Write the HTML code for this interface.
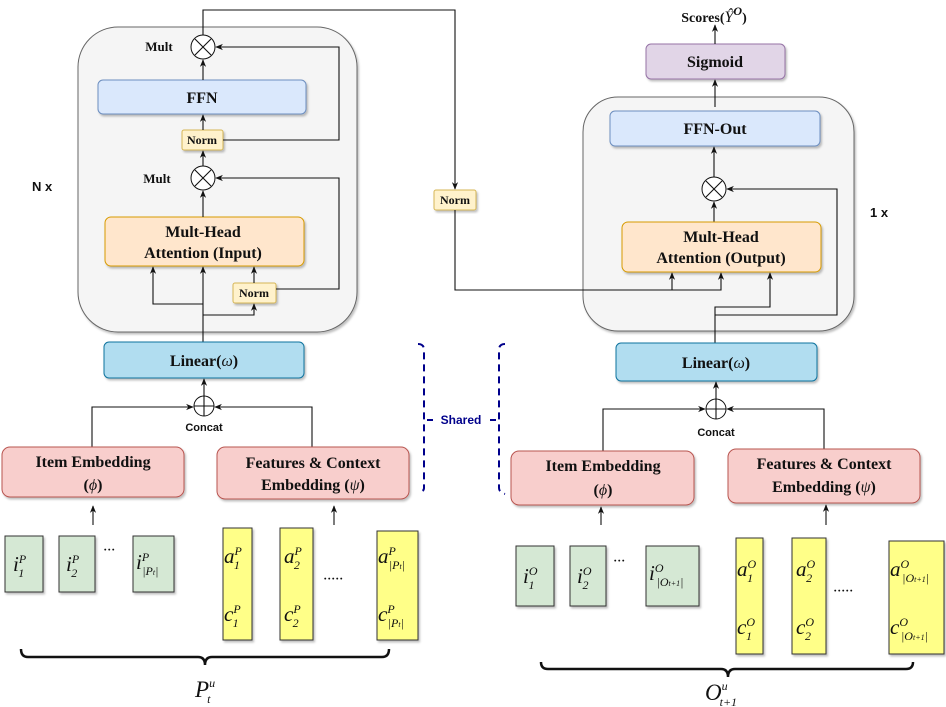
<!DOCTYPE html>
<html><head><meta charset="utf-8"><style>
html,body{margin:0;padding:0;background:#fff;}
svg{display:block;}
.b{font-family:"Liberation Serif",serif;font-weight:bold;fill:#111;}
.s{font-family:"Liberation Sans",sans-serif;font-weight:bold;fill:#111;}
.m{font-family:"Liberation Serif",serif;font-style:italic;fill:#111;}
.sub{font-family:"Liberation Serif",serif;font-style:italic;fill:#111;font-size:12px;}
line,polyline,path.c{stroke:#111;stroke-width:1.1;fill:none;}
</style></head><body>
<svg width="946" height="707" viewBox="0 0 946 707" xmlns="http://www.w3.org/2000/svg">
<defs>
<marker id="a" viewBox="0 0 10 10" refX="9" refY="5" markerWidth="7" markerHeight="7" orient="auto"><path d="M0,1 L10,5 L0,9 L3,5 z" fill="#111"/></marker>
<filter id="sh" x="-5%" y="-5%" width="115%" height="125%"><feDropShadow dx="1.5" dy="2" stdDeviation="1" flood-color="#000" flood-opacity="0.25"/></filter>
</defs>

<!-- LEFT big box -->
<rect x="78" y="27" width="279" height="305" rx="40" fill="#f5f5f5" stroke="#666" filter="url(#sh)"/>
<text x="32" y="191" class="s" font-size="13">N x</text>

<rect x="98" y="80" width="208" height="34" rx="5" fill="#dae8fc" stroke="#6c8ebf" filter="url(#sh)"/>
<text x="202" y="103" class="b" font-size="16" text-anchor="middle">FFN</text>
<rect x="182" y="130" width="41" height="20" rx="2" fill="#fff2cc" stroke="#d6b656" filter="url(#sh)"/>
<text x="202" y="144" class="b" font-size="12" text-anchor="middle">Norm</text>
<rect x="105" y="217" width="199" height="49" rx="6" fill="#ffe6cc" stroke="#d79b00" filter="url(#sh)"/>
<text x="203" y="237" class="b" font-size="16" text-anchor="middle">Mult-Head</text>
<text x="203" y="258" class="b" font-size="16" text-anchor="middle">Attention (Input)</text>
<rect x="233" y="283" width="43" height="20" rx="2" fill="#fff2cc" stroke="#d6b656" filter="url(#sh)"/>
<text x="254" y="297" class="b" font-size="12" text-anchor="middle">Norm</text>

<circle cx="203" cy="47" r="12" fill="#fff" stroke="#111"/>
<path class="c" d="M195,39 L211,55 M211,39 L195,55"/>
<text x="159" y="51" class="b" font-size="13" text-anchor="middle">Mult</text>
<circle cx="203" cy="178" r="12" fill="#fff" stroke="#111"/>
<path class="c" d="M195,170 L211,186 M211,170 L195,186"/>
<text x="157" y="183" class="b" font-size="13" text-anchor="middle">Mult</text>

<line x1="203" y1="80" x2="203" y2="60" marker-end="url(#a)"/>
<line x1="203" y1="130" x2="203" y2="115" marker-end="url(#a)"/>
<line x1="203" y1="166" x2="203" y2="151" marker-end="url(#a)"/>
<line x1="203" y1="217" x2="203" y2="191" marker-end="url(#a)"/>
<line x1="203" y1="342" x2="203" y2="267" marker-end="url(#a)"/>
<polyline points="203,304 153,304 153,267" marker-end="url(#a)"/>
<polyline points="203,315 254,315 254,304" marker-end="url(#a)"/>
<line x1="254" y1="283" x2="254" y2="267" marker-end="url(#a)"/>
<polyline points="276,289 339,289 339,178 216,178" marker-end="url(#a)"/>
<polyline points="223,140 339,140 339,47 216,47" marker-end="url(#a)"/>
<polyline points="203,35 203,10 455,10 455,189" marker-end="url(#a)"/>

<rect x="434" y="190" width="42" height="20" rx="2" fill="#fff2cc" stroke="#d6b656" filter="url(#sh)"/>
<text x="455" y="204" class="b" font-size="12" text-anchor="middle">Norm</text>

<!-- LEFT bottom -->
<rect x="104" y="342" width="200" height="36" rx="5" fill="#b1ddf0" stroke="#10739e" filter="url(#sh)"/>
<text x="204" y="366" class="b" font-size="16" text-anchor="middle">Linear(<tspan class="m" font-weight="normal">ω</tspan>)</text>
<circle cx="204" cy="406" r="10" fill="#fff" stroke="#111"/>
<path class="c" d="M194,406 L214,406 M204,396 L204,416"/>
<text x="204" y="431" class="s" font-size="11" text-anchor="middle">Concat</text>
<line x1="204" y1="396" x2="204" y2="379" marker-end="url(#a)"/>
<polyline points="92,447 92,407 193,407" marker-end="url(#a)"/>
<polyline points="312,447 312,407 215,407" marker-end="url(#a)"/>
<rect x="2" y="447" width="182" height="50" rx="8" fill="#f8cecc" stroke="#b85450" filter="url(#sh)"/>
<text x="93" y="467" class="b" font-size="16" text-anchor="middle">Item Embedding</text>
<text x="93" y="490" class="b" font-size="16" text-anchor="middle">(<tspan class="m" font-weight="normal">ϕ</tspan>)</text>
<rect x="217" y="447" width="192" height="52" rx="8" fill="#f8cecc" stroke="#b85450" filter="url(#sh)"/>
<text x="313" y="468" class="b" font-size="16" text-anchor="middle">Features &amp; Context</text>
<text x="313" y="490" class="b" font-size="16" text-anchor="middle">Embedding (<tspan class="m" font-weight="normal">ψ</tspan>)</text>
<line x1="93" y1="525" x2="93" y2="506" marker-end="url(#a)"/>
<line x1="334" y1="525" x2="334" y2="506" marker-end="url(#a)"/>

<g fill="#d5e8d4" stroke="#333" filter="url(#sh)">
<rect x="5" y="536" width="38" height="56"/><rect x="59" y="536" width="36" height="56"/><rect x="133" y="536" width="41" height="56"/>
</g>
<text x="13" y="571" class="m" font-size="21">i<tspan class="sub" dy="-8">P</tspan><tspan class="sub" dx="-8" dy="14">1</tspan></text>
<text x="66" y="571" class="m" font-size="21">i<tspan class="sub" dy="-8">P</tspan><tspan class="sub" dx="-8" dy="14">2</tspan></text>
<text x="103" y="555" class="m" font-size="16">···</text>
<text x="136" y="569" class="m" font-size="21">i<tspan class="sub" dy="-8">P</tspan><tspan class="sub" font-size="10" dx="-7" dy="14">|P<tspan font-size="8">t</tspan>|</tspan></text>

<g fill="#ffff88" stroke="#333" filter="url(#sh)">
<rect x="223" y="528" width="29" height="112"/><rect x="280" y="528" width="33" height="112"/><rect x="377" y="531" width="41" height="109"/>
</g>
<text x="224" y="563" class="m" font-size="21">a<tspan class="sub" dy="-8">P</tspan><tspan class="sub" dx="-8" dy="14">1</tspan></text>
<text x="284" y="563" class="m" font-size="21">a<tspan class="sub" dy="-8">P</tspan><tspan class="sub" dx="-8" dy="14">2</tspan></text>
<text x="378" y="563" class="m" font-size="21">a<tspan class="sub" dy="-8">P</tspan><tspan class="sub" font-size="10" dx="-7" dy="14">|P<tspan font-size="8">t</tspan>|</tspan></text>
<text x="224" y="621" class="m" font-size="21">c<tspan class="sub" dy="-8">P</tspan><tspan class="sub" dx="-8" dy="14">1</tspan></text>
<text x="284" y="621" class="m" font-size="21">c<tspan class="sub" dy="-8">P</tspan><tspan class="sub" dx="-8" dy="14">2</tspan></text>
<text x="378" y="621" class="m" font-size="21">c<tspan class="sub" dy="-8">P</tspan><tspan class="sub" font-size="10" dx="-7" dy="14">|P<tspan font-size="8">t</tspan>|</tspan></text>
<text x="323" y="584" class="m" font-size="16">·····</text>

<path d="M21,649 Q21,657 28,657 L198,657 Q205,657 205,665 Q205,657 212,657 L382,657 Q389,657 389,649" stroke="#111" stroke-width="2.5" fill="none"/>
<text x="195" y="697" class="m" font-size="23">P<tspan class="sub" font-size="14" dy="-10">u</tspan><tspan class="sub" font-size="14" dx="-8" dy="16">t</tspan></text>

<!-- Shared -->
<path d="M418,344 Q424,344 424,350 L424,488 Q424,492 418,492" stroke="#00008b" stroke-width="2" stroke-dasharray="7,5" fill="none"/>
<path d="M505,344 Q499,344 499,350 L499,488 Q499,492 505,494" stroke="#00008b" stroke-width="2" stroke-dasharray="7,5" fill="none"/>
<line x1="427" y1="420" x2="433" y2="420" style="stroke:#00008b;stroke-width:2"/>
<line x1="490" y1="420" x2="496" y2="420" style="stroke:#00008b;stroke-width:2"/>
<text x="461" y="424" font-family="Liberation Sans,sans-serif" font-weight="bold" font-size="12" fill="#00008b" text-anchor="middle">Shared</text>

<!-- RIGHT -->
<text x="714" y="22" class="b" font-size="14" text-anchor="middle">Scores(<tspan class="m" font-weight="normal" font-size="16">Ŷ</tspan><tspan class="sub" dy="-7">O</tspan><tspan dy="7">)</tspan></text>
<rect x="646" y="44" width="139" height="35" rx="5" fill="#e1d5e7" stroke="#9673a6" filter="url(#sh)"/>
<text x="715" y="67" class="b" font-size="16" text-anchor="middle">Sigmoid</text>
<line x1="715" y1="44" x2="715" y2="25" marker-end="url(#a)"/>
<rect x="583" y="97" width="271" height="234" rx="35" fill="#f5f5f5" stroke="#666" filter="url(#sh)"/>
<text x="870" y="217" class="s" font-size="13">1 x</text>
<line x1="715" y1="107" x2="715" y2="80" marker-end="url(#a)"/>
<rect x="610" y="111" width="210" height="35" rx="5" fill="#dae8fc" stroke="#6c8ebf" filter="url(#sh)"/>
<text x="715" y="134" class="b" font-size="16" text-anchor="middle">FFN-Out</text>
<circle cx="714" cy="189" r="12" fill="#fff" stroke="#111"/>
<path class="c" d="M706,181 L722,197 M722,181 L706,197"/>
<line x1="714" y1="177" x2="714" y2="147" marker-end="url(#a)"/>
<line x1="714" y1="222" x2="714" y2="202" marker-end="url(#a)"/>
<rect x="622" y="222" width="199" height="50" rx="6" fill="#ffe6cc" stroke="#d79b00" filter="url(#sh)"/>
<text x="721" y="242" class="b" font-size="16" text-anchor="middle">Mult-Head</text>
<text x="721" y="263" class="b" font-size="16" text-anchor="middle">Attention (Output)</text>
<polyline points="715,343 715,307 770,307 770,273" marker-end="url(#a)"/>
<polyline points="715,315 837,315 837,189 727,189" marker-end="url(#a)"/>
<polyline points="455,210 455,290 721,290 721,273" marker-end="url(#a)"/>
<polyline points="672,290 672,273" marker-end="url(#a)"/>

<rect x="616" y="343" width="201" height="38" rx="5" fill="#b1ddf0" stroke="#10739e" filter="url(#sh)"/>
<text x="716" y="368" class="b" font-size="16" text-anchor="middle">Linear(<tspan class="m" font-weight="normal">ω</tspan>)</text>
<circle cx="716" cy="409" r="10" fill="#fff" stroke="#111"/>
<path class="c" d="M706,409 L726,409 M716,399 L716,419"/>
<text x="716" y="436" class="s" font-size="11" text-anchor="middle">Concat</text>
<line x1="716" y1="399" x2="716" y2="382" marker-end="url(#a)"/>
<polyline points="603,451 603,409 705,409" marker-end="url(#a)"/>
<polyline points="824,449 824,409 727,409" marker-end="url(#a)"/>
<rect x="511" y="451" width="183" height="54" rx="8" fill="#f8cecc" stroke="#b85450" filter="url(#sh)"/>
<text x="603" y="471" class="b" font-size="16" text-anchor="middle">Item Embedding</text>
<text x="603" y="495" class="b" font-size="16" text-anchor="middle">(<tspan class="m" font-weight="normal">ϕ</tspan>)</text>
<rect x="728" y="449" width="192" height="54" rx="8" fill="#f8cecc" stroke="#b85450" filter="url(#sh)"/>
<text x="824" y="469" class="b" font-size="16" text-anchor="middle">Features &amp; Context</text>
<text x="824" y="492" class="b" font-size="16" text-anchor="middle">Embedding (<tspan class="m" font-weight="normal">ψ</tspan>)</text>
<line x1="601" y1="525" x2="601" y2="507" marker-end="url(#a)"/>
<line x1="826" y1="525" x2="826" y2="505" marker-end="url(#a)"/>

<g fill="#d5e8d4" stroke="#333" filter="url(#sh)">
<rect x="516" y="546" width="38" height="60"/><rect x="570" y="546" width="36" height="60"/><rect x="646" y="546" width="53" height="60"/>
</g>
<text x="523" y="583" class="m" font-size="21">i<tspan class="sub" dy="-8">O</tspan><tspan class="sub" dx="-9" dy="14">1</tspan></text>
<text x="577" y="583" class="m" font-size="21">i<tspan class="sub" dy="-8">O</tspan><tspan class="sub" dx="-9" dy="14">2</tspan></text>
<text x="613" y="566" class="m" font-size="16">···</text>
<text x="649" y="580" class="m" font-size="21">i<tspan class="sub" dy="-8">O</tspan><tspan class="sub" font-size="10" dx="-7" dy="14">|O<tspan font-size="8">t+1</tspan>|</tspan></text>

<g fill="#ffff88" stroke="#333" filter="url(#sh)">
<rect x="736" y="538" width="27" height="116"/><rect x="792" y="538" width="34" height="116"/><rect x="889" y="541" width="55" height="113"/>
</g>
<text x="737" y="576" class="m" font-size="21">a<tspan class="sub" dy="-8">O</tspan><tspan class="sub" dx="-9" dy="14">1</tspan></text>
<text x="796" y="576" class="m" font-size="21">a<tspan class="sub" dy="-8">O</tspan><tspan class="sub" dx="-9" dy="14">2</tspan></text>
<text x="890" y="576" class="m" font-size="21">a<tspan class="sub" dy="-8">O</tspan><tspan class="sub" font-size="10" dx="-7" dy="14">|O<tspan font-size="8">t+1</tspan>|</tspan></text>
<text x="737" y="634" class="m" font-size="21">c<tspan class="sub" dy="-8">O</tspan><tspan class="sub" dx="-9" dy="14">1</tspan></text>
<text x="796" y="634" class="m" font-size="21">c<tspan class="sub" dy="-8">O</tspan><tspan class="sub" dx="-9" dy="14">2</tspan></text>
<text x="890" y="634" class="m" font-size="21">c<tspan class="sub" dy="-8">O</tspan><tspan class="sub" font-size="10" dx="-7" dy="14">|O<tspan font-size="8">t+1</tspan>|</tspan></text>
<text x="833" y="596" class="m" font-size="16">·····</text>

<path d="M541,662 Q541,669 548,669 L721,669 Q728,669 728,677 Q728,669 735,669 L906,669 Q913,669 913,662" stroke="#111" stroke-width="2.5" fill="none"/>
<text x="705" y="700" class="m" font-size="23">O<tspan class="sub" font-size="14" dy="-10">u</tspan><tspan class="sub" font-size="14" dx="-8" dy="16">t+1</tspan></text>
</svg>
</body></html>
